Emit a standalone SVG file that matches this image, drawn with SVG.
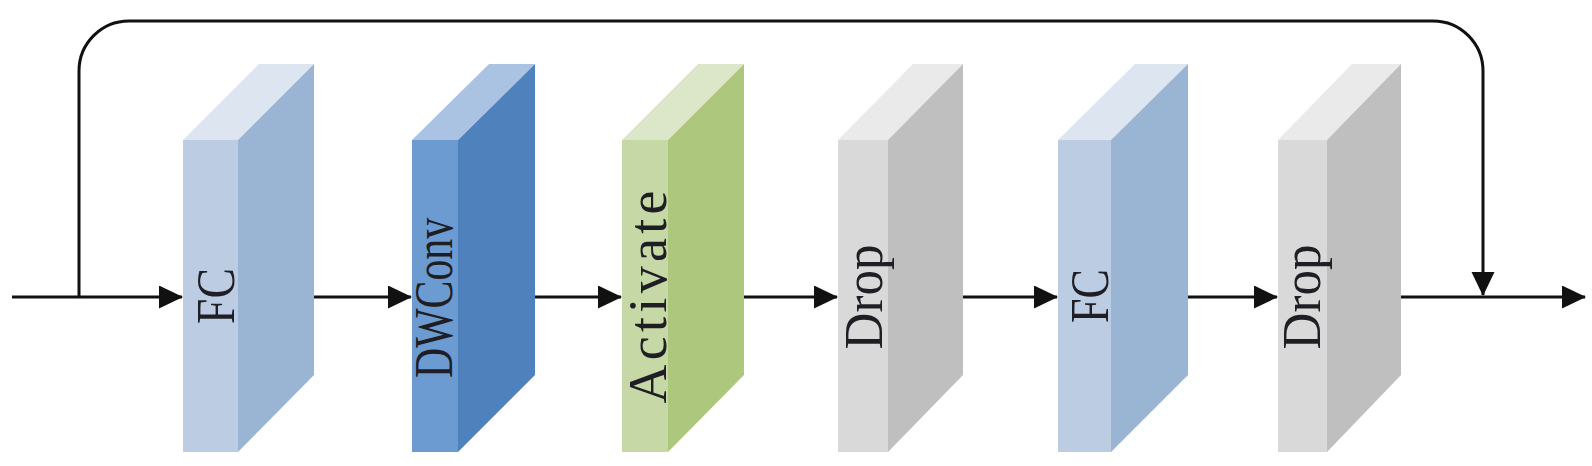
<svg xmlns="http://www.w3.org/2000/svg" width="1592" height="466" viewBox="0 0 1592 466">
  <defs>
    <style>
      .lbl { font-family: "Liberation Serif", "Times New Roman", serif; font-size: 54px; fill: #1e1e24; text-anchor: middle; }
      .conn { fill: none; stroke: #111; stroke-width: 3; }
      .fc .front { fill: #BCCDE3; } .fc .side { fill: #9AB4D4; } .fc .top { fill: #DDE5F1; }
      .dw .front { fill: #6C9BD2; } .dw .side { fill: #4F81BD; } .dw .top { fill: #AAC3E2; }
      .act .front { fill: #C5D8A5; } .act .side { fill: #ADC77C; } .act .top { fill: #DCE7CA; }
      .drop .front { fill: #D9D9D9; } .drop .side { fill: #BFBFBF; } .drop .top { fill: #EAEAEA; }
    </style>
    <marker id="arrow" markerUnits="userSpaceOnUse" markerWidth="24" markerHeight="24" refX="23" refY="11.5" orient="auto">
      <path d="M0,0 L24,11.5 L0,23 Z" fill="#111"/>
    </marker>
  </defs>
  <rect width="1592" height="466" fill="#ffffff"/>

  <g id="node-fc1" class="fc">
    <polygon class="top" points="183,140 238,140 314,64 259,64"/>
    <polygon class="side" points="238,140 314,64 314,375 238,452"/>
    <rect class="front" x="183" y="140" width="55" height="312"/>
    <text class="lbl" transform="translate(234,296) rotate(-90)" textLength="56" lengthAdjust="spacingAndGlyphs">FC</text>
  </g>

  <g id="node-dwconv" class="dw">
    <polygon class="top" points="412,140 458,140 535,64 489,64"/>
    <polygon class="side" points="458,140 535,64 535,375 458,452"/>
    <rect class="front" x="412" y="140" width="46" height="312"/>
    <text class="lbl" transform="translate(452,298) rotate(-90)" textLength="160" lengthAdjust="spacingAndGlyphs">DWConv</text>
  </g>

  <g id="node-activate" class="act">
    <polygon class="top" points="622,140 668,140 744,64 698,64"/>
    <polygon class="side" points="668,140 744,64 744,375 668,452"/>
    <rect class="front" x="622" y="140" width="46" height="312"/>
    <text class="lbl" transform="translate(666,297) rotate(-90)" textLength="213" lengthAdjust="spacing">Activate</text>
  </g>

  <g id="node-drop1" class="drop">
    <polygon class="top" points="838,140 888,140 963,64 913,64"/>
    <polygon class="side" points="888,140 963,64 963,375 888,452"/>
    <rect class="front" x="838" y="140" width="50" height="312"/>
    <text class="lbl" transform="translate(882,297) rotate(-90)" textLength="105" lengthAdjust="spacingAndGlyphs">Drop</text>
  </g>

  <g id="node-fc2" class="fc">
    <polygon class="top" points="1058,140 1111,140 1188,64 1135,64"/>
    <polygon class="side" points="1111,140 1188,64 1188,375 1111,452"/>
    <rect class="front" x="1058" y="140" width="53" height="312"/>
    <text class="lbl" transform="translate(1108,296) rotate(-90)" textLength="54" lengthAdjust="spacingAndGlyphs">FC</text>
  </g>

  <g id="node-drop2" class="drop">
    <polygon class="top" points="1278,140 1327,140 1401,64 1352,64"/>
    <polygon class="side" points="1327,140 1401,64 1401,375 1327,452"/>
    <rect class="front" x="1278" y="140" width="49" height="312"/>
    <text class="lbl" transform="translate(1320,297) rotate(-90)" textLength="105" lengthAdjust="spacingAndGlyphs">Drop</text>
  </g>

  <g id="connectors">
    <line class="conn" x1="12" y1="297" x2="182" y2="297" marker-end="url(#arrow)"/>
    <line class="conn" x1="314" y1="297" x2="411" y2="297" marker-end="url(#arrow)"/>
    <line class="conn" x1="535" y1="297" x2="621" y2="297" marker-end="url(#arrow)"/>
    <line class="conn" x1="744" y1="297" x2="837" y2="297" marker-end="url(#arrow)"/>
    <line class="conn" x1="963" y1="297" x2="1057" y2="297" marker-end="url(#arrow)"/>
    <line class="conn" x1="1188" y1="297" x2="1277" y2="297" marker-end="url(#arrow)"/>
    <line class="conn" x1="1401" y1="297" x2="1585" y2="297" marker-end="url(#arrow)"/>
    <path class="conn" d="M79,297 L79,71 A50,50 0 0 1 129,21 L1433,21 A50,50 0 0 1 1483,71 L1483,295" marker-end="url(#arrow)"/>
  </g>
</svg>
